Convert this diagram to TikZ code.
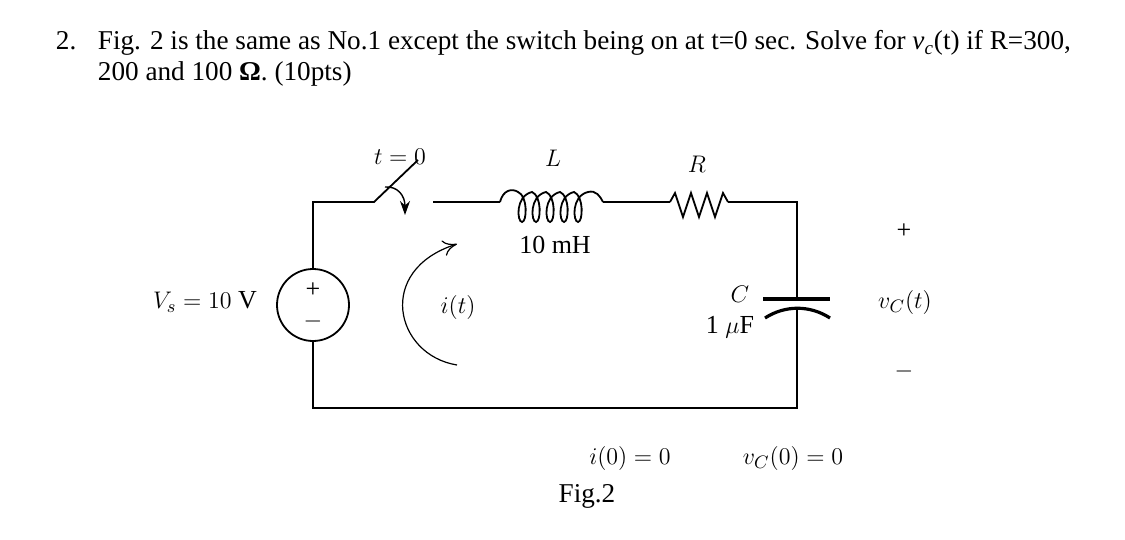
\documentclass[tikz,border=0pt]{standalone}
\usepackage{fontspec}
\setmainfont{Liberation Serif}
\usetikzlibrary{arrows.meta,decorations.pathmorphing}
\begin{document}
\begin{tikzpicture}[x=0.5pt,y=-0.5pt,line width=0.9pt,
  lbl/.style={inner sep=0pt,font=\fontsize{13}{15}\selectfont},
  txt/.style={inner sep=0pt,anchor=base west,font=\fontsize{13.6}{16}\selectfont}]
\useasboundingbox[fill=white] (0,0) rectangle (1125,540);
\node[txt] (n2) at (55,50) {2.};
\node[txt] (l1) at (97,50) {Fig. 2 is the same as No.1 except the switch being on at t=0 sec. Solve for \textit{v\textsubscript{c}}(t) if R=300,};
\node[txt] (l2) at (97,81) {200 and 100 \textbf{Ω}. (10pts)};
% wires
\coordinate (tl) at (313,202); \coordinate (tr) at (797,202);
\coordinate (bl) at (313,408); \coordinate (br) at (797,408);
\node[draw,circle,minimum size=36pt,inner sep=0pt] (vs) at (313,305) {};
\node[lbl] (vp) at (313,290) {+};
\node[lbl] (vm) at (313,321) {$-$};
\draw (vs.north) -- (tl) -- (374,202) coordinate (sw1) -- (418,160) coordinate (sw2);
\draw (433,202) coordinate (sw3) -- (500,202) coordinate (la);
% inductor
\draw (la) .. controls (503,190) and (512,188) .. (518,192)
  foreach \i in {0,...,4} { .. controls ({518+\i*14+10},{196}) and ({518+\i*14+9},{222}) .. ({518+\i*14+4},{222}) .. controls ({518+\i*14-1},{222}) and ({518+\i*14-3},{196}) .. ({518+\i*14+14},{192}) }
  .. controls (596,190) and (600,196) .. (603,202) coordinate (lb);
\draw (lb) -- (670,202) coordinate (ra);
\draw (ra) -- (675,193) -- (683,217) -- (691,193) -- (699,217) -- (707,193) -- (715,217) -- (723,193) -- (728,202) coordinate (rb);
\draw (rb) -- (tr) -- (797,299) coordinate (c1);
\draw[line width=1.6pt] (763,299) -- (830,299);
\draw[line width=1.6pt] (765,318) .. controls (785,305) and (810,305) .. (830,318);
\draw (797,309) coordinate (c2) -- (br) -- (bl) -- (vs.south);
% switch arrow
\draw[-{Stealth[length=7pt,width=5pt]},line width=0.7pt] (385,187) .. controls (398,186) and (405,196) .. (405,215);
% current arrow
\draw[-{To[length=7pt,width=8pt]},line width=0.6pt] (457,365) .. controls (395,355) and (375,270) .. (457,244);
% labels
\node[lbl] (t0) at (400,157) {$t=0$};
\node[lbl] (L) at (553,158) {$L$};
\node[lbl] (R) at (697,164) {$R$};
\node[lbl] (lv) at (555,245) {10 mH};
\node[lbl] (Vs) at (205,302) {$V_s=10$ V};
\node[lbl] (it) at (458,307) {$i(t)$};
\node[lbl] (C) at (740,294) {$C$};
\node[lbl] (cv) at (730,327) {1 $\mu$F};
\node[lbl] (pp) at (904,231) {+};
\node[lbl] (vc) at (905,302) {$v_C(t)$};
\node[lbl] (mm) at (904,371) {$-$};
\node[lbl] (i0) at (630,458) {$i(0)=0$};
\node[lbl] (vc0) at (793,458) {$v_C(0)=0$};
\node[txt,anchor=center] (fig) at (587,496) {Fig.2};
\end{tikzpicture}
\end{document}
